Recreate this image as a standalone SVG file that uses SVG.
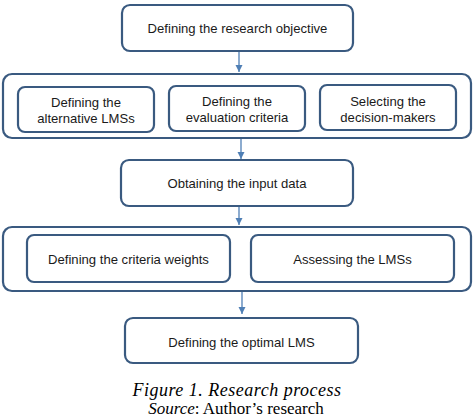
<svg xmlns="http://www.w3.org/2000/svg" width="474" height="419" viewBox="0 0 474 419">
<defs>
<style>
.box{fill:#fff;stroke:#3a5a80;stroke-width:2.2}
.t{font-family:"Liberation Sans",Arial,sans-serif;font-size:13.1px;fill:#1a1a1a;text-anchor:middle}
.c{font-family:"Liberation Serif","Times New Roman",serif;fill:#000;text-anchor:middle}
.arr{stroke:#4f7fb5;stroke-width:1.3;fill:none}
</style>
<marker id="ah" markerWidth="8" markerHeight="8" refX="7" refY="4" orient="auto" markerUnits="userSpaceOnUse">
<path d="M0,0.5 L7,4 L0,7.5 Z" fill="#4f7fb5"/>
</marker>
</defs>
<rect width="474" height="419" fill="#fff"/>
<g id="n1"><rect class="box" x="122" y="5" width="231" height="46" rx="8"/><text class="t" x="237.5" y="33">Defining the research objective</text></g>
<g id="g2"><rect class="box" x="3" y="74" width="468" height="64" rx="9"/></g>
<g id="n2a"><rect class="box" x="18" y="87" width="136" height="45" rx="7"/><text class="t" x="86" y="107">Defining the</text><text class="t" x="86" y="123">alternative LMSs</text></g>
<g id="n2b"><rect class="box" x="169" y="86" width="136" height="45" rx="7"/><text class="t" x="237" y="106">Defining the</text><text class="t" x="237" y="122">evaluation criteria</text></g>
<g id="n2c"><rect class="box" x="320" y="85" width="136" height="45" rx="7"/><text class="t" x="388" y="106">Selecting the</text><text class="t" x="388" y="122">decision-makers</text></g>
<g id="n3"><rect class="box" x="121" y="160" width="232" height="46" rx="8"/><text class="t" x="237" y="188">Obtaining the input data</text></g>
<g id="g4"><rect class="box" x="3" y="227" width="468" height="64" rx="9"/></g>
<g id="n4a"><rect class="box" x="27" y="235" width="203" height="47" rx="7"/><text class="t" x="128.5" y="264">Defining the criteria weights</text></g>
<g id="n4b"><rect class="box" x="251" y="235" width="203" height="47" rx="7"/><text class="t" x="352.5" y="264">Assessing the LMSs</text></g>
<g id="n5"><rect class="box" x="125" y="318" width="233" height="45" rx="8"/><text class="t" x="241.5" y="347">Defining the optimal LMS</text></g>
<g id="connectors">
<line class="arr" x1="239" y1="52" x2="239" y2="72" marker-end="url(#ah)"/>
<line class="arr" x1="241" y1="139" x2="241" y2="159" marker-end="url(#ah)"/>
<line class="arr" x1="239" y1="207" x2="239" y2="225" marker-end="url(#ah)"/>
<line class="arr" x1="242" y1="292" x2="242" y2="314" marker-end="url(#ah)"/>
</g>
<text class="c" x="237" y="395.5" font-size="18" font-style="italic" letter-spacing="0.5">Figure 1. Research process</text>
<text class="c" x="236" y="413.5" font-size="17"><tspan font-style="italic">Source</tspan>: Author’s research</text>
</svg>
